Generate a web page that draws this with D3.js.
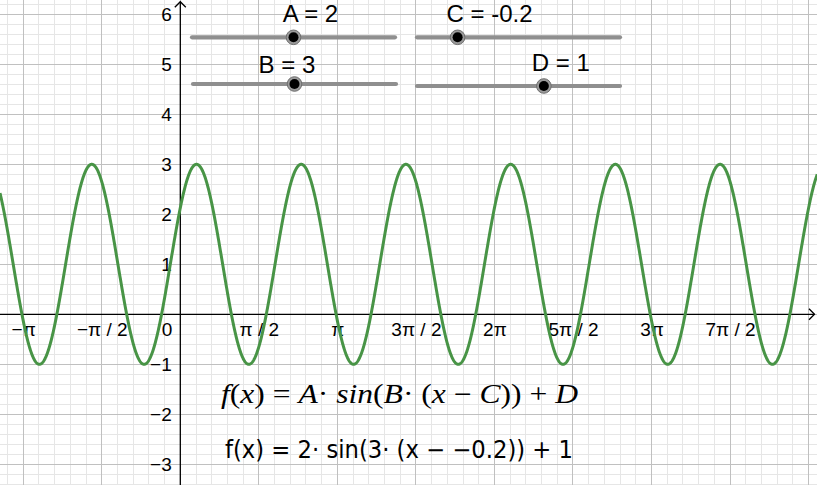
<!DOCTYPE html>
<html>
<head>
<meta charset="utf-8">
<script src="https://cdn.jsdelivr.net/npm/d3@7"></script>
<style>
  body { margin: 0; background: #fff; overflow: hidden; }
  svg { display: block; }
  text { font-family: "Liberation Sans", Arial, sans-serif; fill: #000; }
</style>
</head>
<body>
<script>
// slider parameters
const sliderNames  = ["A", "B", "C", "D"];
const sliderValues = [2, 3, -0.2, 1];
const sliderMins   = [0, 0, -1, -4];
const sliderMaxs   = [4, 6, 3, 4];

// axis ticks (x ticks are multiples of pi)
const xTickMultiples = [-1, -0.5, 0, 0.5, 1, 1.5, 2, 2.5, 3, 3.5];
const xTickLabels = ["−π", "−π / 2", "0", "π / 2", "π", "3π / 2", "2π", "5π / 2", "3π", "7π / 2"];
const yTickValues = [6, 5, 4, 3, 2, 1, -1, -2, -3];
const yTickLabels = ["6", "5", "4", "3", "2", "1", "−1", "−2", "−3"];

const W = 817, H = 485;
const PI = Math.PI;
const unit = 50;          // px per unit on both axes
const ox = 180.3, oy = 314.3;

const x = d3.scaleLinear().domain([-ox / unit, (W - ox) / unit]).range([0, W]);
const y = d3.scaleLinear().domain([-(H - oy) / unit, oy / unit]).range([H, 0]);

const svg = d3.select("body").append("svg")
  .attr("width", W)
  .attr("height", H);

svg.append("rect").attr("width", W).attr("height", H).attr("fill", "#fff");

// grid: minor x every pi/10, major every pi/2; minor y every 0.2, major every 1
function stepsIn(domain, step) {
  const a = Math.ceil(domain[0] / step), b = Math.floor(domain[1] / step);
  return d3.range(a, b + 1).map(k => k * step);
}
const grid = svg.append("g").attr("shape-rendering", "crispEdges");
grid.selectAll(".vminor").data(stepsIn(x.domain(), PI / 10)).enter().append("line")
  .attr("x1", d => x(d)).attr("x2", d => x(d)).attr("y1", 0).attr("y2", H)
  .attr("stroke", "#e6e6e6").attr("stroke-width", 1);
grid.selectAll(".hminor").data(stepsIn(y.domain(), 0.2)).enter().append("line")
  .attr("y1", d => y(d)).attr("y2", d => y(d)).attr("x1", 0).attr("x2", W)
  .attr("stroke", "#e6e6e6").attr("stroke-width", 1);
grid.selectAll(".vmajor").data(stepsIn(x.domain(), PI / 2)).enter().append("line")
  .attr("x1", d => x(d)).attr("x2", d => x(d)).attr("y1", 0).attr("y2", H)
  .attr("stroke", "#c0c0c0").attr("stroke-width", 1);
grid.selectAll(".hmajor").data(stepsIn(y.domain(), 1)).enter().append("line")
  .attr("y1", d => y(d)).attr("y2", d => y(d)).attr("x1", 0).attr("x2", W)
  .attr("stroke", "#c0c0c0").attr("stroke-width", 1);

// axes
const xAxis = d3.axisBottom(x)
  .tickValues(xTickMultiples.map(m => m * PI))
  .tickFormat((d, i) => xTickLabels[i])
  .tickSize(0).tickPadding(8.5);
const gx = svg.append("g").attr("transform", `translate(0,${y(0)})`).call(xAxis);
gx.select(".domain").remove();
gx.selectAll("text").style("font-size", "19px").style("font-family", "Liberation Sans, Arial, sans-serif");
gx.selectAll(".tick").filter(d => d === 0).select("text")
  .attr("x", -8.6).attr("text-anchor", "end");

const yAxis = d3.axisLeft(y)
  .tickValues(yTickValues)
  .tickFormat((d, i) => yTickLabels[i])
  .tickSize(0).tickPadding(8.6);
const gy = svg.append("g").attr("transform", `translate(${x(0)},0)`).call(yAxis);
gy.select(".domain").remove();
gy.selectAll("text").style("font-size", "19px").attr("dy", "0.35em")
  .style("font-family", "Liberation Sans, Arial, sans-serif");

// axis lines with open arrow heads
const axisG = svg.append("g").attr("stroke", "#000").attr("fill", "none").attr("stroke-width", 1.3);
axisG.append("line").attr("x1", 0).attr("x2", W - 2.5).attr("y1", y(0)).attr("y2", y(0));
axisG.append("path").attr("d", `M${W - 8},${y(0) - 5.5}L${W - 2.5},${y(0)}L${W - 8},${y(0) + 5.5}`);
axisG.append("line").attr("x1", x(0)).attr("x2", x(0)).attr("y1", 1.7).attr("y2", H);
axisG.append("path").attr("d", `M${x(0) - 5.5},${7.2}L${x(0)},${1.7}L${x(0) + 5.5},${7.2}`);

// the function f(x) = A sin(B (x - C)) + D with the slider values
const [A, B, C, D] = sliderValues;
const f = t => A * Math.sin(B * (t - C)) + D;
const xs = d3.range(x.domain()[0], x.domain()[1] + 0.005, 0.005);
svg.append("path")
  .datum(xs)
  .attr("fill", "none")
  .attr("stroke", "#489446")
  .attr("stroke-width", 3)
  .attr("stroke-linejoin", "round")
  .attr("d", d3.line().x(t => x(t)).y(t => y(f(t))));

// sliders
const sliderLayout = [
  {x0: 192, x1: 395, y: 37.3, dx: 17, dy: -15.6},
  {x0: 193, x1: 396, y: 84, dx: -7.6, dy: -10.7},
  {x0: 417, x1: 620, y: 37.3, dx: 32, dy: -15.6},
  {x0: 417, x1: 620, y: 86, dx: 17, dy: -15}
];
sliderNames.forEach((name, i) => {
  const L = sliderLayout[i];
  const s = d3.scaleLinear().domain([sliderMins[i], sliderMaxs[i]]).range([L.x0, L.x1]);
  const g = svg.append("g");
  g.append("line")
    .attr("x1", s(sliderMins[i])).attr("x2", s(sliderMaxs[i]))
    .attr("y1", L.y).attr("y2", L.y)
    .attr("stroke", "#8f8f8f").attr("stroke-width", 4.2).attr("stroke-linecap", "round");
  const px = s(sliderValues[i]);
  g.append("circle").attr("cx", px).attr("cy", L.y).attr("r", 7.3)
    .attr("fill", "#9a9a9a").attr("stroke", "#6e6e6e").attr("stroke-width", 1);
  g.append("circle").attr("cx", px).attr("cy", L.y).attr("r", 5).attr("fill", "#000");
  const v = sliderValues[i];
  g.append("text")
    .attr("x", px + L.dx).attr("y", L.y + L.dy)
    .attr("text-anchor", "middle")
    .style("font-size", "24px")
    .text(`${name} = ${v}`);
});

// formulas
const fmt = v => (v < 0 ? "−" + Math.abs(v) : String(v));
const line1 = svg.append("text")
  .attr("x", 221).attr("y", 403)
  .attr("textLength", 357).attr("lengthAdjust", "spacingAndGlyphs")
  .style("font-family", "Liberation Serif, 'DejaVu Serif', serif")
  .style("font-size", "27px");
const parts1 = [
  ["f", true], ["(", false], ["x", true], [") = ", false], ["A", true], ["· ", false],
  ["sin", true], ["(", false], ["B", true], ["· (", false], ["x", true], [" − ", false],
  ["C", true], [")) + ", false], ["D", true]
];
parts1.forEach(([t, it]) => {
  line1.append("tspan").style("font-style", it ? "italic" : "normal").text(t);
});

svg.append("text")
  .attr("x", 225).attr("y", 458)
  .attr("textLength", 348).attr("lengthAdjust", "spacingAndGlyphs")
  .style("font-family", "'DejaVu Sans', 'Noto Sans', sans-serif")
  .style("font-size", "24px")
  .text(`f(x) = ${fmt(A)}· sin(${fmt(B)}· (x − ${fmt(C)})) + ${fmt(D)}`);
</script>
</body>
</html>
